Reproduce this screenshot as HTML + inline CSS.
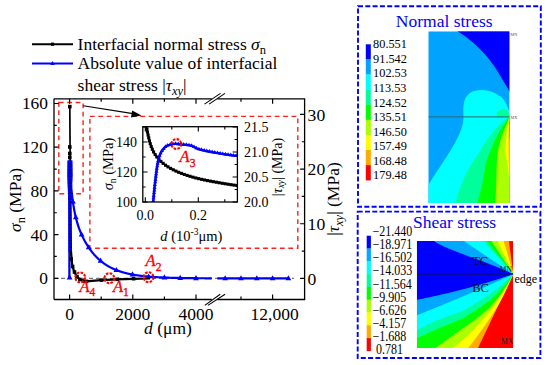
<!DOCTYPE html>
<html><head><meta charset="utf-8"><style>
html,body{margin:0;padding:0;background:#fff;width:550px;height:365px;overflow:hidden}
svg{display:block}
text{font-family:"Liberation Serif",serif}
</style></head><body>
<svg width="550" height="365" viewBox="0 0 550 365">
<line x1="54.0" y1="278.3" x2="294" y2="278.3" stroke="#555" stroke-width="1" stroke-dasharray="4,3"/>
<rect x="58.8" y="102.5" width="24.3" height="91.2" fill="none" stroke="#ff2020" stroke-width="1.4" stroke-dasharray="4.8,3.6"/>
<rect x="89.9" y="116.4" width="207.9" height="131.8" fill="none" stroke="#ff2020" stroke-width="1.4" stroke-dasharray="4.8,3.6"/>
<line x1="83.2" y1="105.8" x2="133" y2="113.6" stroke="#000" stroke-width="1.1"/>
<polygon points="141.5,115.4 132.2,110.6 131.0,117.6" fill="#000"/>
<polyline points="69.60,164.97 69.84,168.84 70.07,172.45 70.31,175.83 70.55,179.00 70.79,181.96 71.02,184.74 71.26,187.35 71.50,189.80 71.74,192.11 71.97,194.28 72.21,196.34 72.45,198.27 72.69,200.11 72.92,201.84 73.16,203.49 73.40,205.06 73.64,206.54 73.87,207.96 74.11,209.31 74.35,210.60 74.59,211.83 74.82,213.01 75.06,214.15 75.30,215.23 75.53,216.28 75.77,217.28 76.01,218.25 76.25,219.19 76.48,220.09 76.72,220.96 76.96,221.81 77.20,222.63 77.43,223.43 77.67,224.20 77.91,224.95 78.15,225.68 78.38,226.39 78.62,227.09 78.86,227.76 79.10,228.43 79.33,229.07 79.57,229.70 79.81,230.32 80.05,230.93 80.28,231.52 80.52,232.10 80.76,232.68 80.99,233.24 81.23,233.79 81.47,234.33 81.71,234.86 81.94,235.38 82.18,235.89 82.42,236.40 82.66,236.89 82.89,237.38 83.13,237.86 83.37,238.34 83.61,238.81 83.84,239.27 84.08,239.72 84.32,240.17 84.56,240.61 84.79,241.05 85.03,241.48 85.27,241.90 85.51,242.32 85.74,242.73 85.98,243.14 86.22,243.54 86.46,243.94 86.69,244.33 86.93,244.72 87.17,245.10 87.40,245.48 87.64,245.86 87.88,246.23 88.12,246.59 88.35,246.95 88.59,247.31 88.83,247.66 89.07,248.00 89.30,248.35 89.54,248.69 89.78,249.02 90.02,249.35 90.25,249.68 90.49,250.00 90.73,250.32 90.97,250.64 91.20,250.95 91.44,251.26 91.68,251.57 91.92,251.87 92.15,252.17 92.39,252.46 92.63,252.75 92.86,253.04 93.10,253.33 93.34,253.61 93.58,253.89 93.81,254.16 94.05,254.43 94.29,254.70 94.53,254.97 94.76,255.23 95.00,255.49 95.24,255.75 95.48,256.00 95.71,256.25 95.95,256.50 96.19,256.75 96.43,256.99 96.66,257.23 96.90,257.47 97.14,257.70 97.38,257.94 97.61,258.17 97.85,258.39 98.09,258.62 98.32,258.84 98.56,259.06 98.80,259.28 99.04,259.49 99.27,259.70 99.51,259.91 99.75,260.12 99.99,260.32 100.22,260.53 100.46,260.73 100.70,260.93 100.94,261.12 101.17,261.32 101.41,261.51 101.65,261.70 101.89,261.88 102.12,262.07 102.36,262.25 102.60,262.43 102.84,262.61 103.07,262.79 103.31,262.96 103.55,263.14 103.78,263.31 104.02,263.48 104.26,263.64 104.50,263.81 104.73,263.97 104.97,264.14 105.21,264.30 105.45,264.45 105.68,264.61 105.92,264.76 106.16,264.92 106.40,265.07 106.63,265.22 106.87,265.37 107.11,265.51 107.35,265.66 107.58,265.80 107.82,265.94 108.06,266.08 108.30,266.22 108.53,266.36 108.77,266.49 109.01,266.62 109.25,266.76 109.48,266.89 109.72,267.02 109.96,267.14 110.19,267.27 110.43,267.39 110.67,267.52 110.91,267.64 111.14,267.76 111.38,267.88 111.62,268.00 111.86,268.11 112.09,268.23 112.33,268.34 112.57,268.46 112.81,268.57 113.04,268.68 113.28,268.79 113.52,268.89 113.76,269.00 113.99,269.11 114.23,269.21 114.47,269.31 114.71,269.42 114.94,269.52 115.18,269.62 115.42,269.71 115.65,269.81 115.89,269.91 116.13,270.00 116.37,270.10 116.60,270.19 116.84,270.28 117.08,270.37 117.32,270.46 117.55,270.55 117.79,270.64 118.03,270.73 118.27,270.81 118.50,270.90 118.74,270.98 118.98,271.07 119.22,271.15 119.45,271.23 119.69,271.31 119.93,271.39 120.17,271.47 120.40,271.55 120.64,271.62 120.88,271.70 121.11,271.77 121.35,271.85 121.59,271.92 121.83,271.99 122.06,272.07 122.30,272.14 122.54,272.21 122.78,272.28 123.01,272.35 123.25,272.41 123.49,272.48 123.73,272.55 123.96,272.61 124.20,272.68 124.44,272.74 124.68,272.80 124.91,272.87 125.15,272.93 125.39,272.99 125.63,273.05 125.86,273.11 126.10,273.17 126.34,273.23 126.57,273.29 126.81,273.34 127.05,273.40 127.29,273.46 127.52,273.51 127.76,273.57 128.00,273.62 128.24,273.68 128.47,273.73 128.71,273.78 128.95,273.83 129.19,273.88 129.42,273.93 129.66,273.98 129.90,274.03 130.14,274.08 130.37,274.13 130.61,274.18 130.85,274.23 131.09,274.27 131.32,274.32 131.56,274.37 131.80,274.41 132.04,274.46 132.27,274.50 132.51,274.54 132.75,274.59 132.98,274.63 133.22,274.67 133.46,274.71 133.70,274.75 133.93,274.80 134.17,274.84 134.41,274.88 134.65,274.92 134.88,274.95 135.12,274.99 135.36,275.03 135.60,275.07 135.83,275.11 136.07,275.14 136.31,275.18 136.55,275.22 136.78,275.25 137.02,275.29 137.26,275.32 137.50,275.36 137.73,275.39 137.97,275.42 138.21,275.46 138.44,275.49 138.68,275.52 138.92,275.56 139.16,275.59 139.39,275.62 139.63,275.65 139.87,275.68 140.11,275.71 140.34,275.74 140.58,275.77 140.82,275.80 141.06,275.83 141.29,275.86 141.53,275.89 141.77,275.92 142.01,275.94 142.24,275.97 142.48,276.00 142.72,276.02 142.96,276.05 143.19,276.08 143.43,276.10 143.67,276.13 143.90,276.16 144.14,276.18 144.38,276.21 144.62,276.23 144.85,276.25 145.09,276.28 145.33,276.30 145.57,276.33 145.80,276.35 146.04,276.37 146.28,276.39 146.52,276.42 146.75,276.44 146.99,276.46 147.23,276.48 147.47,276.50 147.70,276.53 147.94,276.55 148.18,276.57 148.42,276.59 148.65,276.61 148.89,276.63 149.13,276.65 149.36,276.67 149.60,276.69 149.84,276.71 150.08,276.73 150.31,276.74 150.55,276.76 150.79,276.78 151.03,276.80 151.26,276.82 151.50,276.84 151.74,276.85 151.98,276.87 152.21,276.89 152.45,276.90 152.69,276.92 152.93,276.94 153.16,276.95 153.40,276.97 153.64,276.99 153.88,277.00 154.11,277.02 154.35,277.03 154.59,277.05 154.83,277.06 155.06,277.08 155.30,277.09 155.54,277.11 155.77,277.12 156.01,277.14 156.25,277.15 156.49,277.16 156.72,277.18 156.96,277.19 157.20,277.21 157.44,277.22 157.67,277.23 157.91,277.25 158.15,277.26 158.39,277.27 158.62,277.28 158.86,277.30 159.10,277.31 159.34,277.32 159.57,277.33 159.81,277.35 160.05,277.36 160.29,277.37 160.52,277.38 160.76,277.39 161.00,277.40 161.23,277.41 161.47,277.43 161.71,277.44 161.95,277.45 162.18,277.46 162.42,277.47 162.66,277.48 162.90,277.49 163.13,277.50 163.37,277.51 163.61,277.52 163.85,277.53 164.08,277.54 164.32,277.55 164.56,277.56 164.80,277.57 165.03,277.58 165.27,277.59 165.51,277.60 165.75,277.60 165.98,277.61 166.22,277.62 166.46,277.63 166.69,277.64 166.93,277.65 167.17,277.66 167.41,277.66 167.64,277.67 167.88,277.68 168.12,277.69 168.36,277.70 168.59,277.71 168.83,277.71 169.07,277.72 169.31,277.73 169.54,277.74 169.78,277.74 170.02,277.75 170.26,277.76 170.49,277.77 170.73,277.77 170.97,277.78 171.21,277.79 171.44,277.79 171.68,277.80 171.92,277.81 172.15,277.81 172.39,277.82 172.63,277.83 172.87,277.83 173.10,277.84 173.34,277.85 173.58,277.85 173.82,277.86 174.05,277.86 174.29,277.87 174.53,277.88 174.77,277.88 175.00,277.89 175.24,277.89 175.48,277.90 175.72,277.90 175.95,277.91 176.19,277.92 176.43,277.92 176.67,277.93 176.90,277.93 177.14,277.94 177.38,277.94 177.62,277.95 177.85,277.95 178.09,277.96 178.33,277.96 178.56,277.97 178.80,277.97 179.04,277.98 179.28,277.98 179.51,277.99 179.75,277.99 179.99,278.00 180.23,278.00 180.46,278.00 180.70,278.01 180.94,278.01 181.18,278.02 181.41,278.02 181.65,278.03 181.89,278.03 182.13,278.03 182.36,278.04 182.60,278.04 182.84,278.05 183.08,278.05 183.31,278.05 183.55,278.06 183.79,278.06 184.02,278.07 184.26,278.07 184.50,278.07 184.74,278.08 184.97,278.08 185.21,278.08 185.45,278.09 185.69,278.09 185.92,278.09 186.16,278.10 186.40,278.10 186.64,278.11 186.87,278.11 187.11,278.11 187.35,278.11 187.59,278.12 187.82,278.12 188.06,278.12 188.30,278.13 188.54,278.13 188.77,278.13 189.01,278.14 189.25,278.14 189.48,278.14 189.72,278.15 189.96,278.15 190.20,278.15 190.43,278.15 190.67,278.16 190.91,278.16 191.15,278.16 191.38,278.16 191.62,278.17 191.86,278.17 192.10,278.17 192.33,278.17 192.57,278.18 192.81,278.18 193.05,278.18 193.28,278.18 193.52,278.19 193.76,278.19 194.00,278.19 194.23,278.19 194.47,278.20 194.71,278.20 194.94,278.20 195.18,278.20 195.42,278.21 195.66,278.21 195.89,278.21 196.13,278.21 196.37,278.21 196.61,278.22 196.84,278.22 197.08,278.22 197.32,278.22 197.56,278.22 197.79,278.23 198.03,278.23 198.27,278.23 198.51,278.23 198.74,278.23 198.98,278.24 199.22,278.24 199.46,278.24 199.69,278.24 199.93,278.24 200.17,278.24 200.41,278.25 200.64,278.25 200.88,278.25 201.12,278.25 201.35,278.25 201.59,278.26 201.83,278.26 202.07,278.26 202.30,278.26 202.54,278.26 202.78,278.26 203.02,278.26 203.25,278.27 203.49,278.27 203.73,278.27 203.97,278.27 204.20,278.27 204.44,278.27 204.68,278.27 204.92,278.28 205.15,278.28 205.39,278.28 205.63,278.28 205.87,278.28 206.10,278.28 206.34,278.28 206.58,278.29 206.81,278.29 207.05,278.29 207.29,278.29 207.53,278.29 207.76,278.29 208.00,278.29 208.24,278.29 208.48,278.30 208.71,278.30 208.95,278.30 209.19,278.30 209.43,278.30 209.66,278.30 209.90,278.30 210.14,278.30 210.38,278.30 210.61,278.31 210.85,278.31 211.09,278.31 211.33,278.31 211.56,278.31 211.80,278.31" fill="none" stroke="#0000ff" stroke-width="2.2" stroke-linejoin="round"/>
<polyline points="217.30,278.40 288.40,278.40" fill="none" stroke="#0000ff" stroke-width="2.3"/>
<line x1="69.4" y1="278.4" x2="69.4" y2="161" stroke="#0000ff" stroke-width="2.3"/>
<polygon points="68.2,200 71.6,200 72.5,175 72.3,160.5 67.6,160.5 67.4,175" fill="#0000ff"/>
<polygon points="72.89,198.38 75.77,203.50 70.01,203.50" fill="#0000ff"/>
<polygon points="75.79,214.17 78.67,219.29 72.91,219.29" fill="#0000ff"/>
<polygon points="81.61,231.44 84.49,236.56 78.73,236.56" fill="#0000ff"/>
<polygon points="88.69,244.25 91.57,249.37 85.81,249.37" fill="#0000ff"/>
<polygon points="100.57,257.62 103.45,262.74 97.69,262.74" fill="#0000ff"/>
<polygon points="116.37,266.90 119.25,272.02 113.49,272.02" fill="#0000ff"/>
<polygon points="132.48,271.34 135.36,276.46 129.60,276.46" fill="#0000ff"/>
<polygon points="148.60,273.40 151.48,278.52 145.72,278.52" fill="#0000ff"/>
<polygon points="164.40,274.35 167.28,279.47 161.52,279.47" fill="#0000ff"/>
<polygon points="180.20,274.80 183.08,279.92 177.32,279.92" fill="#0000ff"/>
<polygon points="196.00,275.01 198.88,280.13 193.12,280.13" fill="#0000ff"/>
<polygon points="225.20,275.20 228.08,280.32 222.32,280.32" fill="#0000ff"/>
<polygon points="241.00,275.20 243.88,280.32 238.12,280.32" fill="#0000ff"/>
<polygon points="256.80,275.20 259.68,280.32 253.92,280.32" fill="#0000ff"/>
<polygon points="272.60,275.20 275.48,280.32 269.72,280.32" fill="#0000ff"/>
<polygon points="288.40,275.20 291.28,280.32 285.52,280.32" fill="#0000ff"/>
<polygon points="69.60,274.30 72.48,279.42 66.72,279.42" fill="#0000ff"/>
<line x1="69.8" y1="106" x2="70.4" y2="200" stroke="#000" stroke-width="1.7"/>
<polyline points="70.4,199 70.9,250 72.1,264.4 74.0,271.1 76.4,275.9 80.2,279.7 86,281.4 92,280.9 101.1,280.1 117,279.3 133,278.8 150,278.5" fill="none" stroke="#000" stroke-width="2.2" stroke-linejoin="round"/>
<rect x="68.00" y="104.80" width="3.6" height="3.6" fill="#000"/>
<rect x="68.00" y="145.20" width="3.6" height="3.6" fill="#000"/>
<rect x="68.00" y="151.70" width="3.6" height="3.6" fill="#000"/>
<rect x="68.00" y="155.70" width="3.6" height="3.6" fill="#000"/>
<rect x="69.40" y="257.20" width="3.6" height="3.6" fill="#000"/>
<rect x="70.80" y="264.70" width="3.6" height="3.6" fill="#000"/>
<rect x="72.70" y="270.20" width="3.6" height="3.6" fill="#000"/>
<rect x="75.20" y="274.80" width="3.6" height="3.6" fill="#000"/>
<rect x="78.20" y="277.70" width="3.6" height="3.6" fill="#000"/>
<rect x="81.70" y="279.20" width="3.6" height="3.6" fill="#000"/>
<rect x="84.70" y="279.60" width="3.6" height="3.6" fill="#000"/>
<rect x="99.70" y="278.30" width="3.6" height="3.6" fill="#000"/>
<rect x="115.50" y="277.50" width="3.6" height="3.6" fill="#000"/>
<rect x="131.80" y="276.90" width="3.6" height="3.6" fill="#000"/>
<polygon points="68.2,200 71.6,200 72.5,175 72.3,160.5 67.6,160.5 67.4,175" fill="#0000ff"/>
<line x1="69.8" y1="199" x2="70.0" y2="252" stroke="#0000ff" stroke-width="3.0"/>
<rect x="69.4" y="163.00" width="1.2" height="1.6" fill="#000"/>
<rect x="69.4" y="166.20" width="1.2" height="1.6" fill="#000"/>
<rect x="69.4" y="169.40" width="1.2" height="1.6" fill="#000"/>
<rect x="69.4" y="172.60" width="1.2" height="1.6" fill="#000"/>
<rect x="69.4" y="175.80" width="1.2" height="1.6" fill="#000"/>
<rect x="69.4" y="179.00" width="1.2" height="1.6" fill="#000"/>
<rect x="69.4" y="182.20" width="1.2" height="1.6" fill="#000"/>
<rect x="69.4" y="185.40" width="1.2" height="1.6" fill="#000"/>
<rect x="69.4" y="188.60" width="1.2" height="1.6" fill="#000"/>
<rect x="69.4" y="191.80" width="1.2" height="1.6" fill="#000"/>
<rect x="69.4" y="195.00" width="1.2" height="1.6" fill="#000"/>
<rect x="69.4" y="198.20" width="1.2" height="1.6" fill="#000"/>
<rect x="69.4" y="201.40" width="1.2" height="1.6" fill="#000"/>
<rect x="69.4" y="204.60" width="1.2" height="1.6" fill="#000"/>
<rect x="69.4" y="207.80" width="1.2" height="1.6" fill="#000"/>
<rect x="69.4" y="211.00" width="1.2" height="1.6" fill="#000"/>
<rect x="69.4" y="214.20" width="1.2" height="1.6" fill="#000"/>
<rect x="69.4" y="217.40" width="1.2" height="1.6" fill="#000"/>
<rect x="69.4" y="220.60" width="1.2" height="1.6" fill="#000"/>
<rect x="69.4" y="223.80" width="1.2" height="1.6" fill="#000"/>
<rect x="69.4" y="227.00" width="1.2" height="1.6" fill="#000"/>
<rect x="69.4" y="230.20" width="1.2" height="1.6" fill="#000"/>
<rect x="69.4" y="233.40" width="1.2" height="1.6" fill="#000"/>
<rect x="69.4" y="236.60" width="1.2" height="1.6" fill="#000"/>
<rect x="69.4" y="239.80" width="1.2" height="1.6" fill="#000"/>
<rect x="69.4" y="243.00" width="1.2" height="1.6" fill="#000"/>
<rect x="69.4" y="246.20" width="1.2" height="1.6" fill="#000"/>
<rect x="69.4" y="249.40" width="1.2" height="1.6" fill="#000"/>
<path d="M54.0,98.8 H211.8 M217.3,98.8 H304.6 V299.5 H217.3 M211.8,299.5 H54.0 Z" fill="none" stroke="#000" stroke-width="1.3"/>
<path d="M54.0,98.8 V299.5" stroke="#000" stroke-width="1.3"/>
<g stroke="#000" stroke-width="1.1"><line x1="204.5" y1="104.1" x2="220.5" y2="93.4"/><line x1="209.1" y1="104.1" x2="225" y2="93.4"/><line x1="204.8" y1="305.4" x2="220.2" y2="294.3"/><line x1="207.9" y1="305.4" x2="225.1" y2="294.3"/></g>
<path d="M54.0,278.30 h4.5 M54.0,234.60 h4.5 M54.0,190.90 h4.5 M54.0,147.20 h4.5 M54.0,103.50 h4.5 M54.0,256.45 h2.8 M54.0,212.75 h2.8 M54.0,169.05 h2.8 M54.0,125.35 h2.8 M304.6,278.40 h-4.5 M304.6,223.73 h-4.5 M304.6,169.07 h-4.5 M304.6,114.40 h-4.5 M304.6,251.07 h-2.8 M304.6,196.40 h-2.8 M304.6,141.73 h-2.8 M69.60,299.5 v-5 M69.60,98.8 v5 M132.80,299.5 v-5 M132.80,98.8 v5 M196.00,299.5 v-5 M196.00,98.8 v5 M272.60,299.5 v-5 M272.60,98.8 v5 M101.20,299.5 v-3 M101.20,98.8 v3 M164.40,299.5 v-3 M164.40,98.8 v3 M241.00,299.5 v-3 M241.00,98.8 v3" stroke="#000" stroke-width="1.2" fill="none"/>
<text x="48.0" y="284.20" font-family="Liberation Serif" font-size="17.4" text-anchor="end">0</text>
<text x="48.0" y="240.50" font-family="Liberation Serif" font-size="17.4" text-anchor="end">40</text>
<text x="48.0" y="196.80" font-family="Liberation Serif" font-size="17.4" text-anchor="end">80</text>
<text x="48.0" y="153.10" font-family="Liberation Serif" font-size="17.4" text-anchor="end">120</text>
<text x="48.0" y="109.40" font-family="Liberation Serif" font-size="17.4" text-anchor="end">160</text>
<text x="307.6" y="284.80" font-family="Liberation Serif" font-size="17.6">0</text>
<text x="307.6" y="230.13" font-family="Liberation Serif" font-size="17.6">10</text>
<text x="307.6" y="175.47" font-family="Liberation Serif" font-size="17.6">20</text>
<text x="307.6" y="120.80" font-family="Liberation Serif" font-size="17.6">30</text>
<text x="69.60" y="319.6" font-family="Liberation Serif" font-size="17.5" text-anchor="middle">0</text>
<text x="132.80" y="319.6" font-family="Liberation Serif" font-size="17.5" text-anchor="middle">2000</text>
<text x="196.00" y="319.6" font-family="Liberation Serif" font-size="17.5" text-anchor="middle">4000</text>
<text x="274.60" y="319.6" font-family="Liberation Serif" font-size="17.5" text-anchor="middle">12,000</text>
<text x="168.0" y="333.8" font-family="Liberation Serif" font-size="17.5" text-anchor="middle"><tspan font-style="italic">d</tspan> (μm)</text>
<text transform="translate(20.8,200) rotate(-90)" font-family="Liberation Serif" font-size="17.5" text-anchor="middle"><tspan font-style="italic">σ</tspan><tspan font-size="12.5" dy="4">n</tspan><tspan dy="-4"> (MPa)</tspan></text>
<text transform="translate(339.4,199) rotate(-90)" font-family="Liberation Serif" font-size="17.5" text-anchor="middle">|<tspan font-style="italic">τ</tspan><tspan font-size="12.5" dy="4" font-style="italic">xy</tspan><tspan dy="-4">| (MPa)</tspan></text>
<line x1="32" y1="44.2" x2="73" y2="44.2" stroke="#000" stroke-width="2"/>
<rect x="50.90" y="42.60" width="3.2" height="3.2" fill="#000"/>
<line x1="32" y1="63.6" x2="73" y2="63.6" stroke="#0000ff" stroke-width="2"/>
<polygon points="52.50,61.10 54.75,65.10 50.25,65.10" fill="#0000ff"/>
<text x="77.6" y="49.8" font-family="Liberation Serif" font-size="17.5">Interfacial normal stress <tspan font-style="italic">σ</tspan><tspan font-size="12.5" dy="4">n</tspan></text>
<text x="77.6" y="69.4" font-family="Liberation Serif" font-size="17.5">Absolute value of interfacial</text>
<text x="77.6" y="91" font-family="Liberation Serif" font-size="17.5">shear stress |<tspan font-style="italic">τ</tspan><tspan font-size="12.5" dy="4" font-style="italic">xy</tspan><tspan dy="-4">|</tspan></text>
<rect x="142.8" y="126.7" width="94.60" height="75.30" fill="#fff" stroke="none"/>
<clipPath id="ic"><rect x="142.80" y="126.70" width="94.60" height="75.30"/></clipPath>
<g clip-path="url(#ic)">
<polyline points="146.40,126.00 146.86,128.65 147.32,131.18 147.77,133.54 148.23,135.69 148.69,137.68 149.15,139.59 149.60,141.38 150.06,143.06 150.52,144.58 150.98,145.94 151.44,147.16 151.89,148.29 152.35,149.35 152.81,150.34 153.27,151.27 153.72,152.14 154.18,152.96 154.64,153.73 155.10,154.48 155.56,155.18 156.01,155.86 156.47,156.51 156.93,157.12 157.39,157.70 157.84,158.25 158.30,158.78 158.76,159.27 159.22,159.75 159.68,160.21 160.13,160.67 160.59,161.11 161.05,161.54 161.51,161.96 161.96,162.37 162.42,162.77 162.88,163.16 163.34,163.53 163.80,163.90 164.25,164.26 164.71,164.61 165.17,164.95 165.63,165.28 166.08,165.60 166.54,165.91 167.00,166.21 167.46,166.51 167.92,166.80 168.37,167.08 168.83,167.36 169.29,167.63 169.75,167.90 170.21,168.16 170.66,168.42 171.12,168.68 171.58,168.92 172.04,169.17 172.49,169.41 172.95,169.64 173.41,169.87 173.87,170.10 174.33,170.32 174.78,170.54 175.24,170.76 175.70,170.97 176.16,171.18 176.61,171.38 177.07,171.58 177.53,171.78 177.99,171.98 178.45,172.17 178.90,172.36 179.36,172.54 179.82,172.73 180.28,172.91 180.73,173.09 181.19,173.27 181.65,173.44 182.11,173.61 182.57,173.79 183.02,173.95 183.48,174.12 183.94,174.29 184.40,174.45 184.85,174.61 185.31,174.77 185.77,174.93 186.23,175.09 186.69,175.24 187.14,175.39 187.60,175.54 188.06,175.69 188.52,175.84 188.97,175.98 189.43,176.13 189.89,176.27 190.35,176.41 190.81,176.55 191.26,176.68 191.72,176.82 192.18,176.95 192.64,177.08 193.09,177.21 193.55,177.34 194.01,177.47 194.47,177.59 194.93,177.71 195.38,177.84 195.84,177.96 196.30,178.07 196.76,178.19 197.21,178.31 197.67,178.42 198.13,178.53 198.59,178.64 199.05,178.75 199.50,178.86 199.96,178.97 200.42,179.07 200.88,179.18 201.33,179.28 201.79,179.38 202.25,179.48 202.71,179.58 203.17,179.68 203.62,179.78 204.08,179.88 204.54,179.97 205.00,180.07 205.45,180.16 205.91,180.25 206.37,180.35 206.83,180.44 207.29,180.53 207.74,180.62 208.20,180.71 208.66,180.80 209.12,180.89 209.57,180.97 210.03,181.06 210.49,181.15 210.95,181.24 211.41,181.32 211.86,181.41 212.32,181.49 212.78,181.58 213.24,181.66 213.69,181.75 214.15,181.83 214.61,181.92 215.07,182.00 215.53,182.08 215.98,182.17 216.44,182.25 216.90,182.33 217.36,182.41 217.82,182.50 218.27,182.58 218.73,182.66 219.19,182.74 219.65,182.82 220.10,182.90 220.56,182.98 221.02,183.06 221.48,183.14 221.94,183.21 222.39,183.29 222.85,183.37 223.31,183.45 223.77,183.52 224.22,183.60 224.68,183.68 225.14,183.75 225.60,183.83 226.06,183.90 226.51,183.98 226.97,184.05 227.43,184.12 227.89,184.20 228.34,184.27 228.80,184.34 229.26,184.41 229.72,184.48 230.18,184.55 230.63,184.62 231.09,184.69 231.55,184.76 232.01,184.83 232.46,184.89 232.92,184.96 233.38,185.03 233.84,185.09 234.30,185.16 234.75,185.22 235.21,185.29 235.67,185.35 236.13,185.41 236.58,185.48 237.04,185.54 237.50,185.60" fill="none" stroke="#000" stroke-width="1.7" stroke-linejoin="round"/>
<rect x="144.85" y="124.45" width="3.1" height="3.1" fill="#000"/>
<rect x="145.40" y="127.60" width="3.1" height="3.1" fill="#000"/>
<rect x="145.94" y="130.57" width="3.1" height="3.1" fill="#000"/>
<rect x="146.54" y="133.49" width="3.1" height="3.1" fill="#000"/>
<rect x="147.17" y="136.28" width="3.1" height="3.1" fill="#000"/>
<rect x="147.90" y="139.25" width="3.1" height="3.1" fill="#000"/>
<rect x="148.68" y="142.08" width="3.1" height="3.1" fill="#000"/>
<rect x="149.64" y="144.95" width="3.1" height="3.1" fill="#000"/>
<rect x="150.77" y="147.74" width="3.1" height="3.1" fill="#000"/>
<rect x="152.05" y="150.36" width="3.1" height="3.1" fill="#000"/>
<rect x="153.60" y="153.01" width="3.1" height="3.1" fill="#000"/>
<rect x="155.29" y="155.45" width="3.1" height="3.1" fill="#000"/>
<rect x="157.20" y="157.71" width="3.1" height="3.1" fill="#000"/>
<rect x="159.34" y="159.85" width="3.1" height="3.1" fill="#000"/>
<rect x="161.58" y="161.81" width="3.1" height="3.1" fill="#000"/>
<rect x="163.99" y="163.66" width="3.1" height="3.1" fill="#000"/>
<rect x="166.45" y="165.30" width="3.1" height="3.1" fill="#000"/>
<rect x="169.05" y="166.84" width="3.1" height="3.1" fill="#000"/>
<rect x="171.69" y="168.24" width="3.1" height="3.1" fill="#000"/>
<rect x="174.43" y="169.55" width="3.1" height="3.1" fill="#000"/>
<rect x="177.16" y="170.73" width="3.1" height="3.1" fill="#000"/>
<rect x="179.94" y="171.83" width="3.1" height="3.1" fill="#000"/>
<rect x="182.77" y="172.87" width="3.1" height="3.1" fill="#000"/>
<rect x="185.59" y="173.84" width="3.1" height="3.1" fill="#000"/>
<rect x="188.46" y="174.76" width="3.1" height="3.1" fill="#000"/>
<rect x="191.33" y="175.60" width="3.1" height="3.1" fill="#000"/>
<rect x="194.25" y="176.40" width="3.1" height="3.1" fill="#000"/>
<rect x="197.12" y="177.11" width="3.1" height="3.1" fill="#000"/>
<rect x="200.08" y="177.80" width="3.1" height="3.1" fill="#000"/>
<rect x="203.00" y="178.42" width="3.1" height="3.1" fill="#000"/>
<rect x="205.92" y="179.02" width="3.1" height="3.1" fill="#000"/>
<rect x="208.88" y="179.59" width="3.1" height="3.1" fill="#000"/>
<rect x="211.84" y="180.14" width="3.1" height="3.1" fill="#000"/>
<rect x="214.76" y="180.67" width="3.1" height="3.1" fill="#000"/>
<rect x="217.72" y="181.20" width="3.1" height="3.1" fill="#000"/>
<rect x="220.68" y="181.72" width="3.1" height="3.1" fill="#000"/>
<rect x="223.65" y="182.21" width="3.1" height="3.1" fill="#000"/>
<rect x="226.61" y="182.69" width="3.1" height="3.1" fill="#000"/>
<rect x="229.57" y="183.14" width="3.1" height="3.1" fill="#000"/>
<rect x="232.53" y="183.58" width="3.1" height="3.1" fill="#000"/>
<rect x="235.49" y="183.99" width="3.1" height="3.1" fill="#000"/>
<polyline points="153.00,204.00 153.28,200.84 153.57,197.74 153.85,194.74 154.13,191.84 154.41,189.06 154.70,186.43 154.98,183.92 155.26,181.43 155.54,178.96 155.83,176.54 156.11,174.19 156.39,171.92 156.67,169.78 156.96,167.77 157.24,165.91 157.52,164.24 157.80,162.78 158.09,161.46 158.37,160.23 158.65,159.07 158.93,158.00 159.22,157.02 159.50,156.12 159.78,155.31 160.07,154.58 160.35,153.93 160.63,153.32 160.91,152.74 161.20,152.21 161.48,151.71 161.76,151.25 162.04,150.82 162.33,150.41 162.61,150.04 162.89,149.69 163.17,149.35 163.46,149.01 163.74,148.69 164.02,148.37 164.30,148.06 164.59,147.76 164.87,147.47 165.15,147.20 165.43,146.94 165.72,146.69 166.00,146.47 166.28,146.26 166.57,146.07 166.85,145.90 167.13,145.76 167.41,145.63 167.70,145.53 167.98,145.43 168.26,145.33 168.54,145.23 168.83,145.14 169.11,145.05 169.39,144.96 169.67,144.87 169.96,144.79 170.24,144.71 170.52,144.63 170.80,144.56 171.09,144.49 171.37,144.42 171.65,144.35 171.93,144.29 172.22,144.24 172.50,144.18 172.78,144.13 173.07,144.09 173.35,144.05 173.63,144.01 173.91,143.98 174.20,143.96 174.48,143.93 174.76,143.92 175.04,143.91 175.33,143.90 175.61,143.90 175.89,143.91 176.17,143.92 176.46,143.94 176.74,143.97 177.02,144.00 177.30,144.03 177.59,144.07 177.87,144.11 178.15,144.15 178.43,144.19 178.72,144.23 179.00,144.27 179.28,144.31 179.57,144.35 179.85,144.38 180.13,144.41 180.41,144.44 180.70,144.47 180.98,144.50 181.26,144.52 181.54,144.55 181.83,144.57 182.11,144.60 182.39,144.62 182.67,144.64 182.96,144.67 183.24,144.69 183.52,144.71 183.80,144.73 184.09,144.75 184.37,144.78 184.65,144.80 184.93,144.82 185.22,144.85 185.50,144.87 185.78,144.90 186.07,144.92 186.35,144.95 186.63,144.98 186.91,145.00 187.20,145.03 187.48,145.07 187.76,145.10 188.04,145.13 188.33,145.17 188.61,145.21 188.89,145.24 189.17,145.29 189.46,145.33 189.74,145.37 190.02,145.42 190.30,145.48 190.59,145.55 190.87,145.63 191.15,145.73 191.43,145.83 191.72,145.94 192.00,146.06 192.28,146.19 192.57,146.32 192.85,146.46 193.13,146.60 193.41,146.75 193.70,146.90 193.98,147.05 194.26,147.20 194.54,147.35 194.83,147.51 195.11,147.66 195.39,147.81 195.67,147.96 195.96,148.10 196.24,148.24 196.52,148.38 196.80,148.51 197.09,148.63 197.37,148.74 197.65,148.85 197.93,148.95 198.22,149.04 198.50,149.12 198.78,149.20 199.07,149.29 199.35,149.37 199.63,149.45 199.91,149.53 200.20,149.60 200.48,149.68 200.76,149.76 201.04,149.83 201.33,149.90 201.61,149.98 201.89,150.05 202.17,150.12 202.46,150.19 202.74,150.25 203.02,150.32 203.30,150.39 203.59,150.45 203.87,150.52 204.15,150.58 204.43,150.65 204.72,150.71 205.00,150.77 205.28,150.83 205.57,150.89 205.85,150.95 206.13,151.01 206.41,151.07 206.70,151.13 206.98,151.18 207.26,151.24 207.54,151.30 207.83,151.35 208.11,151.41 208.39,151.46 208.67,151.52 208.96,151.57 209.24,151.62 209.52,151.68 209.80,151.73 210.09,151.78 210.37,151.84 210.65,151.89 210.93,151.94 211.22,151.99 211.50,152.04 211.78,152.10 212.07,152.15 212.35,152.20 212.63,152.25 212.91,152.30 213.20,152.35 213.48,152.41 213.76,152.46 214.04,152.51 214.33,152.56 214.61,152.61 214.89,152.66 215.17,152.71 215.46,152.76 215.74,152.81 216.02,152.86 216.30,152.91 216.59,152.96 216.87,153.01 217.15,153.06 217.43,153.11 217.72,153.16 218.00,153.21 218.28,153.26 218.57,153.31 218.85,153.35 219.13,153.40 219.41,153.45 219.70,153.50 219.98,153.55 220.26,153.59 220.54,153.64 220.83,153.69 221.11,153.73 221.39,153.78 221.67,153.83 221.96,153.87 222.24,153.92 222.52,153.97 222.80,154.01 223.09,154.06 223.37,154.10 223.65,154.15 223.93,154.19 224.22,154.24 224.50,154.28 224.78,154.32 225.07,154.37 225.35,154.41 225.63,154.45 225.91,154.50 226.20,154.54 226.48,154.58 226.76,154.62 227.04,154.67 227.33,154.71 227.61,154.75 227.89,154.79 228.17,154.83 228.46,154.87 228.74,154.91 229.02,154.95 229.30,154.99 229.59,155.03 229.87,155.07 230.15,155.11 230.43,155.15 230.72,155.18 231.00,155.22 231.28,155.26 231.57,155.30 231.85,155.33 232.13,155.37 232.41,155.41 232.70,155.44 232.98,155.48 233.26,155.51 233.54,155.55 233.83,155.58 234.11,155.62 234.39,155.65 234.67,155.68 234.96,155.72 235.24,155.75 235.52,155.78 235.80,155.82 236.09,155.85 236.37,155.88 236.65,155.91 236.93,155.94 237.22,155.97 237.50,156.00" fill="none" stroke="#0000ff" stroke-width="2.4" stroke-linejoin="round"/>
<polygon points="153.00,201.40 155.00,205.00 151.00,205.00" fill="#0000ff"/>
<polygon points="153.25,198.56 155.25,202.16 151.25,202.16" fill="#0000ff"/>
<polygon points="153.51,195.77 155.51,199.37 151.51,199.37" fill="#0000ff"/>
<polygon points="153.76,193.05 155.76,196.65 151.76,196.65" fill="#0000ff"/>
<polygon points="154.01,190.41 156.01,194.01 152.01,194.01" fill="#0000ff"/>
<polygon points="154.27,187.87 156.27,191.47 152.27,191.47" fill="#0000ff"/>
<polygon points="154.56,185.04 156.56,188.64 152.56,188.64" fill="#0000ff"/>
<polygon points="154.86,182.37 156.86,185.97 152.86,185.97" fill="#0000ff"/>
<polygon points="155.16,179.76 157.16,183.36 153.16,183.36" fill="#0000ff"/>
<polygon points="155.45,177.16 157.45,180.76 153.45,180.76" fill="#0000ff"/>
<polygon points="155.79,174.25 157.79,177.85 153.79,177.85" fill="#0000ff"/>
<polygon points="156.09,171.77 158.09,175.37 154.09,175.37" fill="#0000ff"/>
<polygon points="156.42,169.07 158.42,172.67 154.42,172.67" fill="#0000ff"/>
<polygon points="156.80,166.23 158.80,169.83 154.80,169.83" fill="#0000ff"/>
<polygon points="157.18,163.66 159.18,167.26 155.18,167.26" fill="#0000ff"/>
<polygon points="157.65,160.95 159.65,164.55 155.65,164.55" fill="#0000ff"/>
<polygon points="158.20,158.36 160.20,161.96 156.20,161.96" fill="#0000ff"/>
<polygon points="158.83,155.78 160.83,159.38 156.83,159.38" fill="#0000ff"/>
<polygon points="159.59,153.24 161.59,156.84 157.59,156.84" fill="#0000ff"/>
<polygon points="160.61,150.76 162.61,154.36 158.61,154.36" fill="#0000ff"/>
<polygon points="161.92,148.40 163.92,152.00 159.92,152.00" fill="#0000ff"/>
<polygon points="163.57,146.28 165.57,149.88 161.57,149.88" fill="#0000ff"/>
<polygon points="165.43,144.34 167.43,147.94 163.43,147.94" fill="#0000ff"/>
<polygon points="167.67,142.94 169.67,146.54 165.67,146.54" fill="#0000ff"/>
<polygon points="170.25,142.11 172.25,145.71 168.25,145.71" fill="#0000ff"/>
<polygon points="172.91,141.51 174.91,145.11 170.91,145.11" fill="#0000ff"/>
<polygon points="175.57,141.30 177.57,144.90 173.57,144.90" fill="#0000ff"/>
<polygon points="178.28,141.57 180.28,145.17 176.28,145.17" fill="#0000ff"/>
<polygon points="180.94,141.89 182.94,145.49 178.94,145.49" fill="#0000ff"/>
<polygon points="183.65,142.12 185.65,145.72 181.65,145.72" fill="#0000ff"/>
<polygon points="186.31,142.34 188.31,145.94 184.31,145.94" fill="#0000ff"/>
<polygon points="189.02,142.66 191.02,146.26 187.02,146.26" fill="#0000ff"/>
<polygon points="191.64,143.31 193.64,146.91 189.64,146.91" fill="#0000ff"/>
<polygon points="194.05,144.48 196.05,148.08 192.05,148.08" fill="#0000ff"/>
<polygon points="196.45,145.75 198.45,149.35 194.45,149.35" fill="#0000ff"/>
<polygon points="198.95,146.65 200.95,150.25 196.95,150.25" fill="#0000ff"/>
<polygon points="201.57,147.37 203.57,150.97 199.57,150.97" fill="#0000ff"/>
<polygon points="204.19,147.99 206.19,151.59 202.19,151.59" fill="#0000ff"/>
<polygon points="206.85,148.56 208.85,152.16 204.85,152.16" fill="#0000ff"/>
<polygon points="209.47,149.07 211.47,152.67 207.47,152.67" fill="#0000ff"/>
<polygon points="212.14,149.56 214.14,153.16 210.14,153.16" fill="#0000ff"/>
<polygon points="214.80,150.04 216.80,153.64 212.80,153.64" fill="#0000ff"/>
<polygon points="217.46,150.52 219.46,154.12 215.46,154.12" fill="#0000ff"/>
<polygon points="220.13,150.97 222.13,154.57 218.13,154.57" fill="#0000ff"/>
<polygon points="222.79,151.41 224.79,155.01 220.79,155.01" fill="#0000ff"/>
<polygon points="225.45,151.83 227.45,155.43 223.45,155.43" fill="#0000ff"/>
<polygon points="228.12,152.22 230.12,155.82 226.12,155.82" fill="#0000ff"/>
<polygon points="230.78,152.59 232.78,156.19 228.78,156.19" fill="#0000ff"/>
<polygon points="233.48,152.94 235.48,156.54 231.48,156.54" fill="#0000ff"/>
<polygon points="236.15,153.25 238.15,156.85 234.15,156.85" fill="#0000ff"/>
</g>
<rect x="142.8" y="126.7" width="94.60" height="75.30" fill="none" stroke="#000" stroke-width="1.3"/>
<path d="M142.8,202.00 h4.8 M142.8,172.00 h4.8 M142.8,142.00 h4.8 M142.8,187.00 h2.8 M142.8,157.00 h2.8 M142.8,127.00 h2.8 M237.4,202.00 h-4.8 M237.4,177.00 h-4.8 M237.4,152.00 h-4.8 M237.4,127.00 h-4.8 M237.4,189.50 h-2.8 M237.4,164.50 h-2.8 M237.4,139.50 h-2.8 M145.30,202.0 v-4.8 M145.30,126.7 v4.8 M198.30,202.0 v-4.8 M198.30,126.7 v4.8 M171.80,202.0 v-2.8 M171.80,126.7 v2.8 M224.80,202.0 v-2.8 M224.80,126.7 v2.8" stroke="#000" stroke-width="1.1" fill="none"/>
<text x="137" y="206.60" font-family="Liberation Serif" font-size="14" text-anchor="end">100</text>
<text x="137" y="176.60" font-family="Liberation Serif" font-size="14" text-anchor="end">120</text>
<text x="137" y="146.60" font-family="Liberation Serif" font-size="14" text-anchor="end">140</text>
<text x="244" y="206.60" font-family="Liberation Serif" font-size="14">20.0</text>
<text x="244" y="181.60" font-family="Liberation Serif" font-size="14">20.5</text>
<text x="244" y="156.60" font-family="Liberation Serif" font-size="14">21.0</text>
<text x="244" y="131.60" font-family="Liberation Serif" font-size="14">21.5</text>
<text x="145.30" y="219.8" font-family="Liberation Serif" font-size="14" text-anchor="middle">0.0</text>
<text x="198.30" y="219.8" font-family="Liberation Serif" font-size="14" text-anchor="middle">0.2</text>
<text x="160.3" y="240.9" font-family="Liberation Serif" font-size="14.5"><tspan font-style="italic">d</tspan> (10<tspan font-size="9.5" dy="-5.5">-3</tspan><tspan dy="5.5">μm)</tspan></text>
<text transform="translate(113.2,164) rotate(-90)" font-family="Liberation Serif" font-size="14.5" text-anchor="middle"><tspan font-style="italic">σ</tspan><tspan font-size="9.5" dy="2.5">n</tspan><tspan dy="-2.5"> (MPa)</tspan></text>
<text transform="translate(281.6,167) rotate(-90)" font-family="Liberation Serif" font-size="14" text-anchor="middle">|<tspan font-style="italic">τ</tspan><tspan font-size="9.5" dy="2.5" font-style="italic">xy</tspan><tspan dy="-2.5">| (MPa)</tspan></text>
<circle cx="80.2" cy="277.4" r="4.9" fill="none" stroke="#ff0000" stroke-width="2.1" stroke-dasharray="2.6,1.2"/>
<circle cx="109.3" cy="278.2" r="4.9" fill="none" stroke="#ff0000" stroke-width="2.1" stroke-dasharray="2.6,1.2"/>
<circle cx="148.5" cy="277.2" r="4.9" fill="none" stroke="#ff0000" stroke-width="2.1" stroke-dasharray="2.6,1.2"/>
<circle cx="176.3" cy="144.0" r="4.9" fill="none" stroke="#ff0000" stroke-width="2.1" stroke-dasharray="2.6,1.2"/>
<text x="79.5" y="291.5" font-family="Liberation Serif" font-size="16.5" fill="#ff0000" stroke="#ff0000" stroke-width="0.35"><tspan font-style="italic">A</tspan><tspan font-size="11.5" dy="4.9">4</tspan></text>
<text x="113.0" y="291.5" font-family="Liberation Serif" font-size="16.5" fill="#ff0000" stroke="#ff0000" stroke-width="0.35"><tspan font-style="italic">A</tspan><tspan font-size="11.5" dy="4.9">1</tspan></text>
<text x="145.6" y="266.2" font-family="Liberation Serif" font-size="16.5" fill="#ff0000" stroke="#ff0000" stroke-width="0.35"><tspan font-style="italic">A</tspan><tspan font-size="11.5" dy="4.9">2</tspan></text>
<text x="179.6" y="161.6" font-family="Liberation Serif" font-size="16.5" fill="#ff0000" stroke="#ff0000" stroke-width="0.35"><tspan font-style="italic">A</tspan><tspan font-size="11.5" dy="4.9">3</tspan></text>
<rect x="358" y="6.2" width="182.8" height="200.5" fill="none" stroke="#0000ff" stroke-width="1.9" stroke-dasharray="5,2.3"/>
<rect x="357.7" y="211.6" width="182.7" height="146.4" fill="none" stroke="#0000ff" stroke-width="1.9" stroke-dasharray="5,2.3"/>
<text x="444.2" y="26.5" font-family="Liberation Serif" font-size="17.5" fill="#0000ff" text-anchor="middle">Normal stress</text>
<rect x="365.8" y="44.30" width="5" height="15.3" fill="#0000ff"/>
<rect x="365.8" y="59.40" width="5" height="15.3" fill="#00a4ff"/>
<rect x="365.8" y="74.50" width="5" height="15.3" fill="#00ffff"/>
<rect x="365.8" y="89.60" width="5" height="15.3" fill="#00ff9c"/>
<rect x="365.8" y="104.70" width="5" height="15.3" fill="#00ff00"/>
<rect x="365.8" y="119.80" width="5" height="15.3" fill="#aaff00"/>
<rect x="365.8" y="134.90" width="5" height="15.3" fill="#ffff00"/>
<rect x="365.8" y="150.00" width="5" height="15.3" fill="#ffaa00"/>
<rect x="365.8" y="165.10" width="5" height="15.3" fill="#ff0000"/>
<text transform="translate(373.1,48.20) scale(1,1.08)" font-family="Liberation Serif" font-size="12.3">80.551</text>
<text transform="translate(373.1,62.78) scale(1,1.08)" font-family="Liberation Serif" font-size="12.3">91.542</text>
<text transform="translate(373.1,77.36) scale(1,1.08)" font-family="Liberation Serif" font-size="12.3">102.53</text>
<text transform="translate(373.1,91.94) scale(1,1.08)" font-family="Liberation Serif" font-size="12.3">113.53</text>
<text transform="translate(373.1,106.52) scale(1,1.08)" font-family="Liberation Serif" font-size="12.3">124.52</text>
<text transform="translate(373.1,121.10) scale(1,1.08)" font-family="Liberation Serif" font-size="12.3">135.51</text>
<text transform="translate(373.1,135.68) scale(1,1.08)" font-family="Liberation Serif" font-size="12.3">146.50</text>
<text transform="translate(373.1,150.26) scale(1,1.08)" font-family="Liberation Serif" font-size="12.3">157.49</text>
<text transform="translate(373.1,164.84) scale(1,1.08)" font-family="Liberation Serif" font-size="12.3">168.48</text>
<text transform="translate(373.1,179.42) scale(1,1.08)" font-family="Liberation Serif" font-size="12.3">179.48</text>
<svg x="428.3" y="31.3" width="81.30" height="171.70" viewBox="428.3 31.3 81.30 171.70" overflow="hidden">
<rect x="428.3" y="31.3" width="81.30000000000001" height="171.7" fill="#00a4ff"/>
<path d="M457,31.3 C470,38 488,55 498,72 S507,86 509.6,92 V31.3 Z" fill="#0000ff"/>
<path d="M509.6,115 C509,110 506,99 498,95 C490,90 478,88 470,93 C463,98 463,106 463.5,117 C463.5,125 460,135 452,148 C445,160 436,172 428.3,185 V203.0 H509.6 Z" fill="#00ffff"/>
<path d="M509.6,116.9 C509.5,112 506,108.8 502.9,109.1 C499.5,109.4 497,112 496.6,114.5 L496.4,117.4 L509.6,117.4 Z" fill="#00ff9c"/>
<path d="M509.60,116.90 L507.51,118.36 L505.48,119.82 L503.55,121.28 L501.72,122.74 L500.05,124.20 L498.54,125.66 L497.12,127.12 L495.78,128.57 L494.50,130.03 L493.28,131.49 L492.10,132.95 L490.98,134.41 L489.88,135.87 L488.81,137.33 L487.76,138.79 L486.72,140.25 L485.72,141.71 L484.76,143.17 L483.84,144.63 L482.94,146.09 L482.06,147.55 L481.18,149.01 L480.31,150.46 L479.43,151.92 L478.53,153.38 L477.60,154.84 L476.63,156.30 L475.63,157.76 L474.60,159.22 L473.58,160.68 L472.59,162.14 L471.64,163.60 L470.77,165.06 L469.94,166.52 L469.14,167.98 L468.36,169.44 L467.59,170.89 L466.85,172.35 L466.13,173.81 L465.44,175.27 L464.76,176.73 L464.11,178.19 L463.47,179.65 L462.86,181.11 L462.27,182.57 L461.69,184.03 L461.13,185.49 L460.57,186.95 L460.02,188.41 L459.49,189.87 L458.97,191.33 L458.47,192.78 L457.98,194.24 L457.50,195.70 L457.05,197.16 L456.61,198.62 L456.18,200.08 L455.78,201.54 L455.40,203.00 L509.6,203.0 Z" fill="#00ff9c"/>
<path d="M509.60,116.90 L508.39,118.36 L507.20,119.82 L506.06,121.28 L504.97,122.74 L503.94,124.20 L502.98,125.66 L502.06,127.12 L501.17,128.57 L500.31,130.03 L499.48,131.49 L498.68,132.95 L497.90,134.41 L497.14,135.87 L496.40,137.33 L495.68,138.79 L494.98,140.25 L494.30,141.71 L493.65,143.17 L493.01,144.63 L492.40,146.09 L491.79,147.55 L491.20,149.01 L490.61,150.46 L490.03,151.92 L489.43,153.38 L488.82,154.84 L488.20,156.30 L487.61,157.76 L487.06,159.22 L486.57,160.68 L486.17,162.14 L485.82,163.60 L485.51,165.06 L485.24,166.52 L484.98,167.98 L484.74,169.44 L484.52,170.89 L484.30,172.35 L484.08,173.81 L483.85,175.27 L483.61,176.73 L483.35,178.19 L483.07,179.65 L482.77,181.11 L482.45,182.57 L482.13,184.03 L481.80,185.49 L481.46,186.95 L481.11,188.41 L480.76,189.87 L480.39,191.33 L480.02,192.78 L479.64,194.24 L479.25,195.70 L478.86,197.16 L478.45,198.62 L478.04,200.08 L477.63,201.54 L477.20,203.00 L509.6,203.0 Z" fill="#00ff00"/>
<path d="M509.60,116.90 L508.94,118.36 L508.29,119.82 L507.65,121.28 L507.03,122.74 L506.42,124.20 L505.84,125.66 L505.25,127.12 L504.67,128.57 L504.09,130.03 L503.52,131.49 L502.96,132.95 L502.42,134.41 L501.90,135.87 L501.41,137.33 L500.96,138.79 L500.53,140.25 L500.12,141.71 L499.72,143.17 L499.33,144.63 L498.96,146.09 L498.62,147.55 L498.31,149.01 L498.04,150.46 L497.81,151.92 L497.61,153.38 L497.43,154.84 L497.26,156.30 L497.11,157.76 L496.98,159.22 L496.87,160.68 L496.79,162.14 L496.73,163.60 L496.68,165.06 L496.63,166.52 L496.59,167.98 L496.56,169.44 L496.52,170.89 L496.49,172.35 L496.46,173.81 L496.43,175.27 L496.39,176.73 L496.35,178.19 L496.31,179.65 L496.26,181.11 L496.21,182.57 L496.16,184.03 L496.11,185.49 L496.06,186.95 L496.01,188.41 L495.95,189.87 L495.89,191.33 L495.84,192.78 L495.78,194.24 L495.72,195.70 L495.66,197.16 L495.59,198.62 L495.53,200.08 L495.47,201.54 L495.40,203.00 L509.6,203.0 Z" fill="#aaff00"/>
<path d="M509.60,116.90 L509.41,117.94 L509.22,118.97 L509.04,120.01 L508.86,121.04 L508.68,122.08 L508.50,123.11 L508.33,124.15 L508.17,125.18 L508.01,126.22 L507.84,127.26 L507.67,128.29 L507.50,129.33 L507.33,130.36 L507.16,131.40 L507.00,132.43 L506.85,133.47 L506.70,134.51 L506.56,135.54 L506.43,136.58 L506.32,137.61 L506.21,138.65 L506.12,139.68 L506.05,140.72 L505.97,141.75 L505.90,142.79 L505.83,143.83 L505.76,144.86 L505.70,145.90 L505.64,146.93 L505.59,147.97 L505.55,149.00 L505.52,150.04 L505.51,151.07 L505.50,152.11 L505.54,153.15 L505.63,154.18 L505.76,155.22 L505.93,156.25 L506.12,157.29 L506.32,158.32 L506.53,159.36 L506.73,160.39 L506.91,161.43 L507.07,162.47 L507.22,163.50 L507.37,164.54 L507.52,165.57 L507.67,166.61 L507.82,167.64 L507.98,168.68 L508.14,169.72 L508.30,170.75 L508.46,171.79 L508.64,172.82 L508.82,173.86 L509.01,174.89 L509.20,175.93 L509.40,176.96 L509.60,178.00 Z" fill="#ffff00"/>
<path d="M509.60,116.90 L509.48,117.83 L509.36,118.77 L509.24,119.70 L509.13,120.64 L509.03,121.57 L508.94,122.50 L508.87,123.44 L508.82,124.37 L508.79,125.31 L508.77,126.24 L508.75,127.17 L508.73,128.11 L508.71,129.04 L508.69,129.97 L508.68,130.91 L508.66,131.84 L508.65,132.78 L508.64,133.71 L508.63,134.64 L508.62,135.58 L508.61,136.51 L508.61,137.45 L508.60,138.38 L508.60,139.31 L508.60,140.25 L508.60,141.18 L508.60,142.12 L508.61,143.05 L508.61,143.98 L508.61,144.92 L508.62,145.85 L508.63,146.78 L508.63,147.72 L508.64,148.65 L508.65,149.59 L508.66,150.52 L508.67,151.45 L508.68,152.39 L508.69,153.32 L508.71,154.26 L508.72,155.19 L508.73,156.12 L508.75,157.06 L508.76,157.99 L508.78,158.93 L508.80,159.86 L508.82,160.79 L508.85,161.73 L508.89,162.66 L508.94,163.59 L508.99,164.53 L509.06,165.46 L509.13,166.40 L509.20,167.33 L509.27,168.26 L509.35,169.20 L509.44,170.13 L509.52,171.07 L509.60,172.00 Z" fill="#ffaa00"/>
<path d="M509.60,116.90 L509.56,117.29 L509.53,117.68 L509.49,118.07 L509.45,118.47 L509.42,118.86 L509.39,119.25 L509.35,119.64 L509.32,120.03 L509.29,120.42 L509.26,120.82 L509.24,121.21 L509.21,121.60 L509.19,121.99 L509.17,122.38 L509.15,122.77 L509.13,123.16 L509.12,123.56 L509.11,123.95 L509.10,124.34 L509.10,124.73 L509.10,125.12 L509.10,125.51 L509.10,125.91 L509.10,126.30 L509.11,126.69 L509.11,127.08 L509.11,127.47 L509.12,127.86 L509.12,128.25 L509.13,128.65 L509.13,129.04 L509.14,129.43 L509.14,129.82 L509.15,130.21 L509.16,130.60 L509.17,130.99 L509.17,131.39 L509.18,131.78 L509.19,132.17 L509.20,132.56 L509.21,132.95 L509.22,133.34 L509.23,133.74 L509.24,134.13 L509.25,134.52 L509.27,134.91 L509.28,135.30 L509.29,135.69 L509.30,136.08 L509.32,136.48 L509.34,136.87 L509.37,137.26 L509.39,137.65 L509.42,138.04 L509.46,138.43 L509.49,138.83 L509.53,139.22 L509.56,139.61 L509.60,140.00 Z" fill="#ff0000"/>
<line x1="428.3" y1="116.9" x2="509.6" y2="116.9" stroke="#2a6a70" stroke-width="1"/>
</svg>
<text x="510.6" y="35.5" font-family="Liberation Serif" font-size="4.2" fill="#555">MN</text>
<text x="510.6" y="118.8" font-family="Liberation Serif" font-size="4.2" fill="#555">MX</text>
<text x="413.0" y="228.2" font-family="Liberation Serif" font-size="17.5" fill="#0000ff">Shear stress</text>
<rect x="366.7" y="235.70" width="4.2" height="13" fill="#0000ff"/>
<rect x="366.7" y="248.50" width="4.2" height="13" fill="#00a8ff"/>
<rect x="366.7" y="261.30" width="4.2" height="13" fill="#00ffff"/>
<rect x="366.7" y="274.10" width="4.2" height="13" fill="#00ff9c"/>
<rect x="366.7" y="286.90" width="4.2" height="13" fill="#00ff00"/>
<rect x="366.7" y="299.70" width="4.2" height="13" fill="#aaff00"/>
<rect x="366.7" y="312.50" width="4.2" height="13" fill="#ffff00"/>
<rect x="366.7" y="325.30" width="4.2" height="13" fill="#ffaa00"/>
<rect x="366.7" y="338.10" width="4.2" height="13" fill="#ff0000"/>
<text transform="translate(372.4,236.40) scale(1,1.13)" font-family="Liberation Serif" font-size="12">−21.440</text>
<text transform="translate(372.4,249.43) scale(1,1.13)" font-family="Liberation Serif" font-size="12">−18.971</text>
<text transform="translate(372.4,262.46) scale(1,1.13)" font-family="Liberation Serif" font-size="12">−16.502</text>
<text transform="translate(372.4,275.49) scale(1,1.13)" font-family="Liberation Serif" font-size="12">−14.033</text>
<text transform="translate(372.4,288.52) scale(1,1.13)" font-family="Liberation Serif" font-size="12">−11.564</text>
<text transform="translate(372.4,301.55) scale(1,1.13)" font-family="Liberation Serif" font-size="12">−9.905</text>
<text transform="translate(372.4,314.58) scale(1,1.13)" font-family="Liberation Serif" font-size="12">−6.626</text>
<text transform="translate(372.4,327.61) scale(1,1.13)" font-family="Liberation Serif" font-size="12">−4.157</text>
<text transform="translate(372.4,340.64) scale(1,1.13)" font-family="Liberation Serif" font-size="12">−1.688</text>
<text transform="translate(375.9,353.67) scale(1,1.13)" font-family="Liberation Serif" font-size="12">0.781</text>
<svg x="416.9" y="241.1" width="96.40" height="106.90" viewBox="416.9 241.1 96.40 106.90" overflow="hidden">
<rect x="416.9" y="241.1" width="96.40" height="106.90" fill="#ff0000"/>
<polygon points="508.90,241.10 508.99,241.77 509.08,242.45 509.17,243.12 509.26,243.79 509.35,244.47 509.44,245.14 509.53,245.81 509.62,246.49 509.71,247.16 509.80,247.83 509.89,248.51 509.98,249.18 510.07,249.86 510.16,250.53 510.25,251.20 510.34,251.88 510.43,252.55 510.52,253.22 510.61,253.90 510.70,254.57 510.79,255.24 510.88,255.92 510.97,256.59 511.06,257.26 511.14,257.94 511.23,258.61 511.32,259.28 511.41,259.96 511.50,260.63 511.59,261.30 511.68,261.98 511.77,262.65 511.86,263.32 511.95,264.00 512.04,264.67 512.13,265.34 512.22,266.02 512.31,266.69 512.40,267.37 512.49,268.04 512.58,268.71 512.67,269.39 512.76,270.06 512.85,270.73 512.94,271.41 513.03,272.08 513.12,272.75 513.21,273.43 513.30,274.10 416.90,274.10 416.90,241.10" fill="#ffaa00"/>
<polygon points="503.80,241.10 503.99,241.77 504.19,242.45 504.38,243.12 504.58,243.79 504.77,244.47 504.96,245.14 505.16,245.81 505.35,246.49 505.54,247.16 505.74,247.83 505.93,248.51 506.13,249.18 506.32,249.86 506.51,250.53 506.71,251.20 506.90,251.88 507.10,252.55 507.29,253.22 507.48,253.90 507.68,254.57 507.87,255.24 508.07,255.92 508.26,256.59 508.45,257.26 508.65,257.94 508.84,258.61 509.03,259.28 509.23,259.96 509.42,260.63 509.62,261.30 509.81,261.98 510.00,262.65 510.20,263.32 510.39,264.00 510.59,264.67 510.78,265.34 510.97,266.02 511.17,266.69 511.36,267.37 511.56,268.04 511.75,268.71 511.94,269.39 512.14,270.06 512.33,270.73 512.52,271.41 512.72,272.08 512.91,272.75 513.11,273.43 513.30,274.10 416.90,274.10 416.90,241.10" fill="#ffff00"/>
<polygon points="497.80,241.10 498.12,241.77 498.43,242.45 498.75,243.12 499.07,243.79 499.38,244.47 499.70,245.14 500.01,245.81 500.33,246.49 500.65,247.16 500.96,247.83 501.28,248.51 501.60,249.18 501.91,249.86 502.23,250.53 502.54,251.20 502.86,251.88 503.18,252.55 503.49,253.22 503.81,253.90 504.13,254.57 504.44,255.24 504.76,255.92 505.08,256.59 505.39,257.26 505.71,257.94 506.02,258.61 506.34,259.28 506.66,259.96 506.97,260.63 507.29,261.30 507.61,261.98 507.92,262.65 508.24,263.32 508.56,264.00 508.87,264.67 509.19,265.34 509.50,266.02 509.82,266.69 510.14,267.37 510.45,268.04 510.77,268.71 511.09,269.39 511.40,270.06 511.72,270.73 512.03,271.41 512.35,272.08 512.67,272.75 512.98,273.43 513.30,274.10 416.90,274.10 416.90,241.10" fill="#aaff00"/>
<polygon points="491.50,241.10 491.94,241.77 492.39,242.45 492.83,243.12 493.28,243.79 493.72,244.47 494.17,245.14 494.61,245.81 495.06,246.49 495.50,247.16 495.95,247.83 496.39,248.51 496.84,249.18 497.28,249.86 497.73,250.53 498.17,251.20 498.62,251.88 499.06,252.55 499.51,253.22 499.95,253.90 500.40,254.57 500.84,255.24 501.29,255.92 501.73,256.59 502.18,257.26 502.62,257.94 503.07,258.61 503.51,259.28 503.96,259.96 504.40,260.63 504.85,261.30 505.29,261.98 505.74,262.65 506.18,263.32 506.63,264.00 507.07,264.67 507.52,265.34 507.96,266.02 508.41,266.69 508.85,267.37 509.30,268.04 509.74,268.71 510.19,269.39 510.63,270.06 511.08,270.73 511.52,271.41 511.97,272.08 512.41,272.75 512.86,273.43 513.30,274.10 416.90,274.10 416.90,241.10" fill="#00ff00"/>
<polygon points="486.80,241.10 487.34,241.77 487.88,242.45 488.42,243.12 488.96,243.79 489.50,244.47 490.04,245.14 490.59,245.81 491.13,246.49 491.67,247.16 492.21,247.83 492.75,248.51 493.29,249.18 493.83,249.86 494.37,250.53 494.91,251.20 495.45,251.88 495.99,252.55 496.53,253.22 497.08,253.90 497.62,254.57 498.16,255.24 498.70,255.92 499.24,256.59 499.78,257.26 500.32,257.94 500.86,258.61 501.40,259.28 501.94,259.96 502.48,260.63 503.02,261.30 503.57,261.98 504.11,262.65 504.65,263.32 505.19,264.00 505.73,264.67 506.27,265.34 506.81,266.02 507.35,266.69 507.89,267.37 508.43,268.04 508.97,268.71 509.51,269.39 510.06,270.06 510.60,270.73 511.14,271.41 511.68,272.08 512.22,272.75 512.76,273.43 513.30,274.10 416.90,274.10 416.90,241.10" fill="#00ff9c"/>
<polygon points="483.50,241.10 484.11,241.77 484.72,242.45 485.32,243.12 485.93,243.79 486.54,244.47 487.15,245.14 487.76,245.81 488.37,246.49 488.97,247.16 489.58,247.83 490.19,248.51 490.80,249.18 491.41,249.86 492.01,250.53 492.62,251.20 493.23,251.88 493.84,252.55 494.45,253.22 495.06,253.90 495.66,254.57 496.27,255.24 496.88,255.92 497.49,256.59 498.10,257.26 498.70,257.94 499.31,258.61 499.92,259.28 500.53,259.96 501.14,260.63 501.74,261.30 502.35,261.98 502.96,262.65 503.57,263.32 504.18,264.00 504.79,264.67 505.39,265.34 506.00,266.02 506.61,266.69 507.22,267.37 507.83,268.04 508.43,268.71 509.04,269.39 509.65,270.06 510.26,270.73 510.87,271.41 511.48,272.08 512.08,272.75 512.69,273.43 513.30,274.10 416.90,274.10 416.90,241.10" fill="#00ffff"/>
<polygon points="464.00,241.10 465.01,241.78 466.01,242.46 467.02,243.14 468.02,243.82 469.03,244.50 470.04,245.18 471.04,245.86 472.05,246.54 473.06,247.22 474.06,247.90 475.07,248.58 476.07,249.25 477.08,249.93 478.09,250.61 479.09,251.28 480.10,251.96 481.10,252.64 482.11,253.31 483.12,253.99 484.12,254.66 485.13,255.34 486.13,256.01 487.14,256.69 488.15,257.36 489.15,258.03 490.16,258.71 491.17,259.38 492.17,260.05 493.18,260.72 494.18,261.40 495.19,262.07 496.20,262.74 497.20,263.41 498.21,264.08 499.21,264.75 500.22,265.42 501.23,266.09 502.23,266.76 503.24,267.43 504.24,268.10 505.25,268.77 506.26,269.43 507.26,270.10 508.27,270.77 509.28,271.44 510.28,272.10 511.29,272.77 512.29,273.43 513.30,274.10 416.90,274.10 416.90,241.10" fill="#00a8ff"/>
<polygon points="434.00,241.10 435.62,242.10 437.24,243.08 438.86,244.00 440.47,244.84 442.09,245.62 443.71,246.38 445.33,247.11 446.95,247.81 448.57,248.50 450.18,249.16 451.80,249.82 453.42,250.45 455.04,251.08 456.66,251.70 458.28,252.32 459.89,252.94 461.51,253.55 463.13,254.17 464.75,254.80 466.37,255.43 467.99,256.05 469.60,256.65 471.22,257.25 472.84,257.84 474.46,258.43 476.08,259.02 477.70,259.60 479.31,260.19 480.93,260.77 482.55,261.37 484.17,261.97 485.79,262.57 487.41,263.19 489.02,263.82 490.64,264.46 492.26,265.10 493.88,265.76 495.50,266.42 497.12,267.09 498.73,267.76 500.35,268.44 501.97,269.13 503.59,269.82 505.21,270.52 506.83,271.23 508.44,271.94 510.06,272.65 511.68,273.37 513.30,274.10 416.90,274.10 416.90,241.10" fill="#0000ff"/>
<polygon points="478.00,348.00 478.72,346.49 479.44,344.98 480.16,343.48 480.88,341.97 481.60,340.46 482.32,338.95 483.04,337.44 483.76,335.93 484.48,334.43 485.20,332.92 485.92,331.41 486.64,329.90 487.37,328.39 488.09,326.89 488.81,325.38 489.53,323.87 490.25,322.36 490.97,320.85 491.69,319.34 492.41,317.84 493.13,316.33 493.85,314.82 494.57,313.31 495.29,311.80 496.01,310.30 496.73,308.79 497.45,307.28 498.17,305.77 498.89,304.26 499.61,302.76 500.33,301.25 501.05,299.74 501.77,298.23 502.49,296.72 503.21,295.21 503.93,293.71 504.66,292.20 505.38,290.69 506.10,289.18 506.82,287.67 507.54,286.17 508.26,284.66 508.98,283.15 509.70,281.64 510.42,280.13 511.14,278.62 511.86,277.12 512.58,275.61 513.30,274.10 416.90,274.10 416.90,348.00" fill="#ffaa00"/>
<polygon points="468.20,348.00 469.12,346.87 470.04,345.72 470.96,344.56 471.88,343.39 472.80,342.21 473.72,341.01 474.64,339.80 475.56,338.58 476.48,337.35 477.40,336.11 478.32,334.85 479.24,333.59 480.17,332.31 481.09,331.03 482.01,329.73 482.93,328.42 483.85,327.11 484.77,325.79 485.69,324.45 486.61,323.11 487.53,321.77 488.45,320.42 489.37,319.07 490.29,317.71 491.21,316.33 492.13,314.93 493.05,313.52 493.97,312.09 494.89,310.63 495.81,309.15 496.73,307.64 497.65,306.10 498.57,304.52 499.49,302.90 500.41,301.25 501.33,299.55 502.26,297.82 503.18,296.04 504.10,294.22 505.02,292.36 505.94,290.47 506.86,288.54 507.78,286.57 508.70,284.57 509.62,282.54 510.54,280.47 511.46,278.38 512.38,276.25 513.30,274.10 416.90,274.10 416.90,348.00" fill="#ffff00"/>
<polygon points="453.00,348.00 454.23,347.06 455.46,346.09 456.69,345.10 457.92,344.09 459.15,343.06 460.38,342.00 461.61,340.92 462.84,339.83 464.08,338.71 465.31,337.57 466.54,336.42 467.77,335.25 469.00,334.06 470.23,332.85 471.46,331.63 472.69,330.40 473.92,329.15 475.15,327.88 476.38,326.60 477.61,325.30 478.84,323.98 480.07,322.64 481.30,321.27 482.53,319.88 483.77,318.46 485.00,317.01 486.23,315.53 487.46,314.03 488.69,312.49 489.92,310.93 491.15,309.33 492.38,307.70 493.61,306.03 494.84,304.33 496.07,302.59 497.30,300.80 498.53,298.98 499.76,297.11 500.99,295.20 502.22,293.25 503.46,291.27 504.69,289.24 505.92,287.18 507.15,285.09 508.38,282.96 509.61,280.79 510.84,278.59 512.07,276.36 513.30,274.10 416.90,274.10 416.90,348.00" fill="#aaff00"/>
<polygon points="435.30,348.00 436.89,346.86 438.48,345.71 440.08,344.57 441.67,343.43 443.26,342.29 444.85,341.15 446.44,340.01 448.03,338.88 449.63,337.74 451.22,336.60 452.81,335.47 454.40,334.33 455.99,333.20 457.59,332.06 459.18,330.93 460.77,329.80 462.36,328.67 463.95,327.53 465.54,326.41 467.14,325.32 468.73,324.23 470.32,323.13 471.91,322.02 473.50,320.88 475.10,319.69 476.69,318.46 478.28,317.22 479.87,315.97 481.46,314.70 483.06,313.39 484.65,312.05 486.24,310.65 487.83,309.19 489.42,307.66 491.01,306.04 492.61,304.34 494.20,302.54 495.79,300.64 497.38,298.64 498.97,296.56 500.57,294.39 502.16,292.13 503.75,289.79 505.34,287.37 506.93,284.86 508.52,282.28 510.12,279.63 511.71,276.90 513.30,274.10 416.90,274.10 416.90,348.00" fill="#00ff00"/>
<polygon points="416.90,338.50 418.87,337.54 420.83,336.59 422.80,335.64 424.77,334.70 426.74,333.77 428.70,332.85 430.67,331.93 432.64,331.03 434.61,330.13 436.57,329.24 438.54,328.39 440.51,327.56 442.48,326.75 444.44,325.96 446.41,325.18 448.38,324.40 450.34,323.61 452.31,322.82 454.28,322.00 456.25,321.17 458.21,320.30 460.18,319.39 462.15,318.44 464.12,317.44 466.08,316.36 468.05,315.19 470.02,313.96 471.99,312.68 473.95,311.37 475.92,310.05 477.89,308.75 479.86,307.45 481.82,306.15 483.79,304.81 485.76,303.42 487.72,301.97 489.69,300.44 491.66,298.80 493.63,297.04 495.59,295.18 497.56,293.22 499.53,291.15 501.50,288.99 503.46,286.73 505.43,284.38 507.40,281.93 509.37,279.41 511.33,276.79 513.30,274.10 416.90,274.10" fill="#00ff9c"/>
<polygon points="416.90,330.30 418.87,329.24 420.83,328.19 422.80,327.16 424.77,326.15 426.74,325.16 428.70,324.19 430.67,323.24 432.64,322.31 434.61,321.42 436.57,320.55 438.54,319.73 440.51,318.95 442.48,318.21 444.44,317.49 446.41,316.79 448.38,316.10 450.34,315.42 452.31,314.72 454.28,314.01 456.25,313.28 458.21,312.52 460.18,311.71 462.15,310.86 464.12,309.94 466.08,308.95 468.05,307.85 470.02,306.70 471.99,305.49 473.95,304.27 475.92,303.05 477.89,301.84 479.86,300.62 481.82,299.39 483.79,298.14 485.76,296.85 487.72,295.53 489.69,294.17 491.66,292.75 493.63,291.28 495.59,289.76 497.56,288.20 499.53,286.59 501.50,284.93 503.46,283.24 505.43,281.49 507.40,279.71 509.37,277.88 511.33,276.01 513.30,274.10 416.90,274.10" fill="#00ffff"/>
<polygon points="416.90,315.30 418.87,314.52 420.83,313.73 422.80,312.95 424.77,312.16 426.74,311.36 428.70,310.57 430.67,309.77 432.64,308.97 434.61,308.17 436.57,307.36 438.54,306.56 440.51,305.75 442.48,304.94 444.44,304.12 446.41,303.31 448.38,302.49 450.34,301.68 452.31,300.86 454.28,300.04 456.25,299.21 458.21,298.39 460.18,297.56 462.15,296.73 464.12,295.89 466.08,295.06 468.05,294.22 470.02,293.38 471.99,292.53 473.95,291.69 475.92,290.83 477.89,289.98 479.86,289.12 481.82,288.26 483.79,287.40 485.76,286.53 487.72,285.66 489.69,284.79 491.66,283.91 493.63,283.04 495.59,282.16 497.56,281.27 499.53,280.38 501.50,279.49 503.46,278.60 505.43,277.71 507.40,276.81 509.37,275.91 511.33,275.01 513.30,274.10 416.90,274.10" fill="#00a8ff"/>
<polygon points="416.90,299.80 418.87,299.42 420.83,299.02 422.80,298.63 424.77,298.22 426.74,297.81 428.70,297.40 430.67,296.98 432.64,296.55 434.61,296.12 436.57,295.68 438.54,295.23 440.51,294.78 442.48,294.32 444.44,293.86 446.41,293.40 448.38,292.92 450.34,292.45 452.31,291.96 454.28,291.48 456.25,290.98 458.21,290.49 460.18,289.99 462.15,289.48 464.12,288.97 466.08,288.45 468.05,287.93 470.02,287.40 471.99,286.86 473.95,286.32 475.92,285.76 477.89,285.21 479.86,284.64 481.82,284.07 483.79,283.49 485.76,282.91 487.72,282.32 489.69,281.72 491.66,281.12 493.63,280.51 495.59,279.89 497.56,279.27 499.53,278.64 501.50,278.01 503.46,277.37 505.43,276.73 507.40,276.08 509.37,275.43 511.33,274.77 513.30,274.10 416.90,274.10" fill="#0000ff"/>
<line x1="416.9" y1="274.1" x2="513.3" y2="274.1" stroke="#101060" stroke-width="1"/>
</svg>
<text x="472.2" y="264.5" font-family="Liberation Serif" font-size="12.5" fill="#111">TC</text>
<text x="472.2" y="291.5" font-family="Liberation Serif" font-size="12.5" fill="#111">BC</text>
<text x="499.8" y="271.8" font-family="Liberation Serif" font-size="7.5" fill="#222">MN</text>
<text x="501" y="344" font-family="Liberation Serif" font-size="7.5" fill="#222">MX</text>
<text x="514.4" y="283.4" font-family="Liberation Serif" font-size="12">edge</text>
</svg></body></html>
